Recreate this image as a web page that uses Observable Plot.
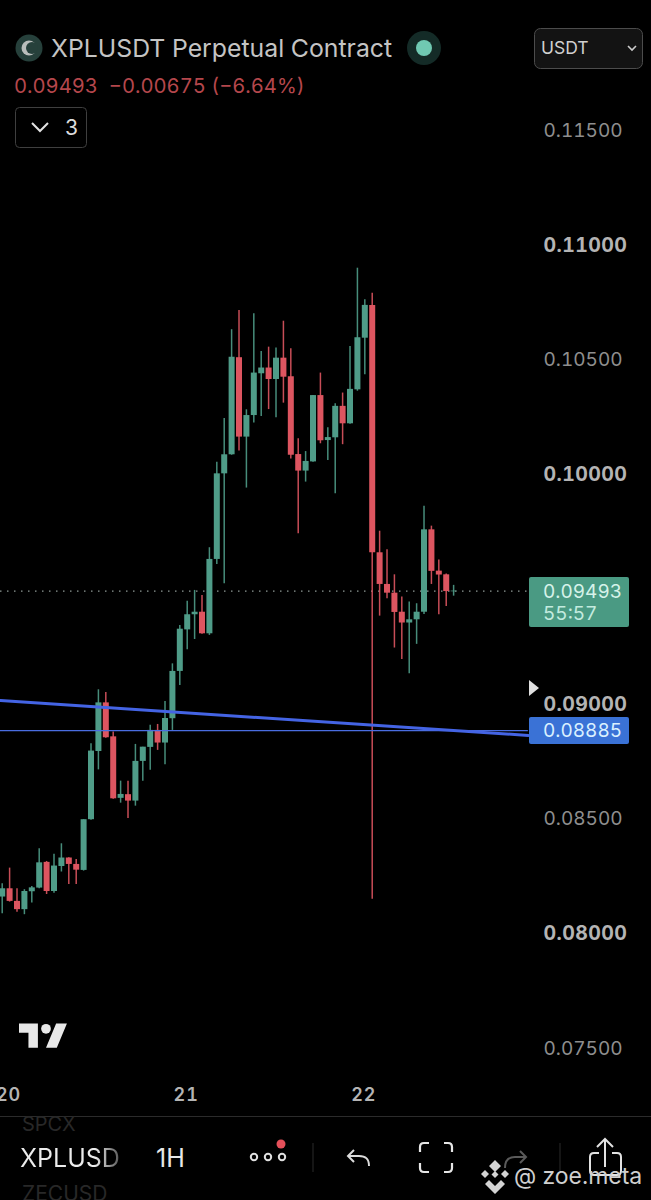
<!DOCTYPE html>
<html>
<head>
<meta charset="utf-8">
<script src="https://cdn.jsdelivr.net/npm/d3@7"></script>
<script src="https://cdn.jsdelivr.net/npm/@observablehq/plot@0.6"></script>
<style>
html,body{margin:0;padding:0;background:#000;}
#page{position:relative;width:651px;height:1200px;overflow:hidden;background:#000;font-family:Inter,Roboto,sans-serif;font-variant-numeric:tabular-nums;}
#page svg{display:block;}
#page svg text{letter-spacing:0;font-variant-numeric:tabular-nums;}
#page svg g[font-weight="700"] text{letter-spacing:.4px;}
#page svg g[font-weight="600"] text{letter-spacing:1px;}
.o{position:absolute;white-space:nowrap;line-height:1;}
</style>
</head>
<body>
<div id="page"></div>
<script>
const opens = [8160,8196,8141,8105,8183,8199,8311,8184,8293,8330,8302,8276,8497,8794,9006,8858,8590,8606,8578,8751,8812,8886,8831,8937,9143,9324,9390,9401,9307,9631,10004,10087,10510,10164,10258,10440,10465,10415,10508,10427,10088,10016,10056,10345,10149,10161,10298,10222,10370,10595,10738,9660,9522,9484,9401,9354,9368,9401,9760,9580,9564,9490];
const highs = [8218,8286,8196,8192,8206,8370,8315,8346,8392,8331,8324,8497,8828,9063,9051,8879,8665,8664,8825,8813,8908,8912,9012,9176,9343,9449,9496,9474,9682,10055,10245,10632,10716,10283,10701,10537,10556,10552,10669,10549,10157,10101,10345,10443,10205,10309,10356,10559,10900,10762,10791,9754,9673,9564,9467,9445,9438,9863,9776,9629,9568,9518];
const lows = [8087,8138,8094,8083,8134,8196,8171,8177,8269,8215,8215,8273,8495,8714,8852,8586,8569,8502,8556,8665,8712,8799,8736,8886,9082,9237,9282,9305,9300,9609,9525,10085,10103,9942,10225,10254,10284,10248,10312,10069,9743,9968,10055,10135,10062,9917,10131,10220,10364,10436,8150,9384,9460,9245,9195,9133,9261,9391,9522,9390,9426,9471];
const closes = [8196,8141,8105,8184,8200,8309,8184,8295,8330,8302,8277,8497,8796,9006,8854,8588,8607,8578,8751,8813,8886,8831,8938,9143,9327,9390,9401,9307,9631,10004,10087,10512,10164,10258,10443,10465,10415,10508,10425,10085,10016,10058,10345,10148,10162,10298,10222,10372,10597,10738,9660,9522,9484,9400,9354,9368,9401,9760,9579,9563,9491,9493];

const regularTicks = [0.115,0.105,0.085,0.075];
const strongTicks = [0.11,0.1,0.09,0.08];
const dayHours = [1,25,49];
const dayLabels = ["20","21","22"];
const lastPrice = 0.09493;
const levelPrice = 0.08885;
const trendHours = [-0.23,71.1];
const trendPrices = [0.09016,0.08864];
const priceLineHours = [-0.23,71.1];

const UP = "#4f9c88", DOWN = "#dd5560";
const candles = opens.map((o,i)=>({hour:i,open:o/1e5,high:highs[i]/1e5,low:lows[i]/1e5,close:closes[i]/1e5,up:closes[i]>=o}));
const fill = d=>d.up?UP:DOWN;
const FONT = "Inter,Roboto,sans-serif";

const chart = Plot.plot({
  width:651,height:1200,
  margin:0,
  style:{background:"#000",fontFamily:FONT},
  x:{type:"linear",domain:[-0.23,87.74],range:[0,651],axis:null},
  y:{type:"linear",domain:[0.075,0.115],range:[1048,130],axis:null},
  marks:[
    Plot.ruleY([lastPrice],{x1:priceLineHours[0],x2:priceLineHours[1],stroke:"#8f9a96",strokeWidth:1.3,strokeDasharray:"1.5,5.5"}),
    Plot.ruleX(candles,{x:"hour",y1:"low",y2:"high",stroke:fill,strokeWidth:1.5,strokeOpacity:0.9}),
    Plot.ruleX(candles,{x:"hour",y1:"open",y2:"close",stroke:fill,strokeWidth:6}),
    Plot.ruleY([levelPrice],{x1:trendHours[0],x2:trendHours[1],stroke:"#4a6de0",strokeWidth:1.2}),
    Plot.line(trendHours.map((h,i)=>({h,p:trendPrices[i]})),{x:"h",y:"p",stroke:"#4464e4",strokeWidth:3}),
    Plot.text(regularTicks,{y:d=>d,frameAnchor:"left",dx:543,textAnchor:"start",text:d=>d.toFixed(5),fill:"#8e8e8e",fontSize:19,lineAnchor:"middle"}),
    Plot.text(strongTicks,{y:d=>d,frameAnchor:"left",dx:543,textAnchor:"start",text:d=>d.toFixed(5),fill:"#b4b4b4",fontSize:19.5,fontWeight:700,lineAnchor:"middle"}),
    Plot.text(dayHours,{x:d=>d,y:d=>0.075,dx:-1,dy:47,text:(d,i)=>dayLabels[i],fill:"#b4b4b4",fontSize:18,fontWeight:600,lineAnchor:"middle"})
  ]
});
const page = document.getElementById("page");
page.appendChild(chart);

const overlay = `
<svg class="o" style="left:0;top:0" width="651" height="1200" viewBox="0 0 651 1200" fill="none">
  <circle cx="29" cy="48" r="13.5" fill="#26403b"/><circle cx="29" cy="48" r="7.5" fill="#b9bdbb"/><circle cx="32" cy="48" r="6" fill="#26403b"/>
  <circle cx="424" cy="48" r="17" fill="#142b27"/><circle cx="424" cy="48" r="8" fill="#70c9b2"/>
  <rect x="534.5" y="28.5" width="108" height="40" rx="6" fill="#131313" stroke="#4c4c4c"/>
  <path d="M628 46l4 4 4-4" stroke="#ccc" stroke-width="1.6"/>
  <rect x="15.5" y="107.5" width="71" height="40" rx="4" stroke="#3f3f3f"/>
  <path d="M32 123l8 8 8-8" stroke="#e2e2e2" stroke-width="2"/>
  <g fill="#e8e8e8" transform="translate(19,1018) scale(1.35)"><path d="M14 22H7V11H0V4h14v18zM28 22h-8l7.5-18h8L28 22z"/><circle cx="20" cy="8" r="3.6"/></g>
  <path d="M529 680l10 8-10 8z" fill="#e0e0e0"/>
  <rect x="529" y="577" width="100" height="50" rx="2" fill="#4a9a83"/>
  <rect x="529" y="717" width="100" height="27" rx="2" fill="#3a72d6"/>
  <line x1="0" x2="651" y1="1116.5" y2="1116.5" stroke="#2b2b2b"/>
  <circle cx="254" cy="1157" r="3.2" stroke="#e0e0e0" stroke-width="2"/><circle cx="268" cy="1157" r="3.2" stroke="#e0e0e0" stroke-width="2"/><circle cx="282" cy="1157" r="3.2" stroke="#e0e0e0" stroke-width="2"/>
  <circle cx="281" cy="1144" r="4.5" fill="#e5505a"/>
  <line x1="313" x2="313" y1="1143" y2="1172" stroke="#2a2a2a"/>
  <path d="M369 1166c0-8-4-10-10-10h-11M354 1150l-6 6 6 6" stroke="#dcdcdc" stroke-width="2"/>
  <path d="M429 1143h-5q-4 0-4 4v5M444 1143h4q4 0 4 4v5M420 1163v5q0 4 4 4h5M452 1163v5q0 4-4 4h-4" stroke="#e6e6e6" stroke-width="2.2"/>
  <path d="M505 1168c0-8 4-11 10-11h11M520 1151l6 6-6 6" stroke="#5a5a5a" stroke-width="2"/>
  <line x1="560" x2="560" y1="1143" y2="1172" stroke="#2a2a2a"/>
  <path d="M599 1153h-5q-4 0-4 4v14q0 4 4 4h23q4 0 4-4v-14q0-4-4-4h-5M605 1167v-27M597 1147l8-8 8 8" stroke="#e2e2e2" stroke-width="2"/>
  <g fill="#d4d4d4"><path d="M495 1160l6 6-6 6-6-6z M485 1170l4 4-4 4-4-4z M505 1170l4 4-4 4-4-4z"/><path d="M495 1186l6-6 4 4-10 10-10-10 4-4z"/><path d="M495 1171l3.5 3.5-3.5 3.5-3.5-3.5z"/></g>
</svg>
<div class="o" style="left:51px;top:36px;font-size:24.8px;color:#c4c4c4">XPLUSDT Perpetual Contract</div>
<div class="o" style="left:541px;top:39px;font-size:17.5px;color:#d0d0d0">USDT</div>
<div class="o" style="left:14px;top:76px;font-size:20.2px;color:#b5474c">0.09493&nbsp; −0.00675 (−6.64%)</div>
<div class="o" style="left:65px;top:117px;font-size:21px;color:#dcdcdc">3</div>
<div class="o" style="left:543px;top:582px;font-size:19px;color:#d6f2e9">0.09493</div>
<div class="o" style="left:543px;top:604px;font-size:19px;color:#c3ebdf">55:57</div>
<div class="o" style="left:543px;top:721px;font-size:19px;color:#d9f0ff">0.08885</div>
<div class="o" style="left:22px;top:1114px;font-size:20px;color:#282828">SPCX</div>
<div class="o" style="left:20px;top:1146px;font-size:25px;background:linear-gradient(90deg,#ececec 75%,#555);-webkit-background-clip:text;background-clip:text;color:transparent">XPLUSD</div>
<div class="o" style="left:156px;top:1146px;font-size:25px;font-variant-numeric:normal;color:#e8e8e8">1H</div>
<div class="o" style="left:22px;top:1183px;font-size:21px;color:#282828">ZECUSD</div>
<div class="o" style="left:514px;top:1165px;font-size:23px;color:#cfcfcf">@ zoe.meta</div>
`;
page.insertAdjacentHTML("beforeend",overlay);
</script>
</body>
</html>
